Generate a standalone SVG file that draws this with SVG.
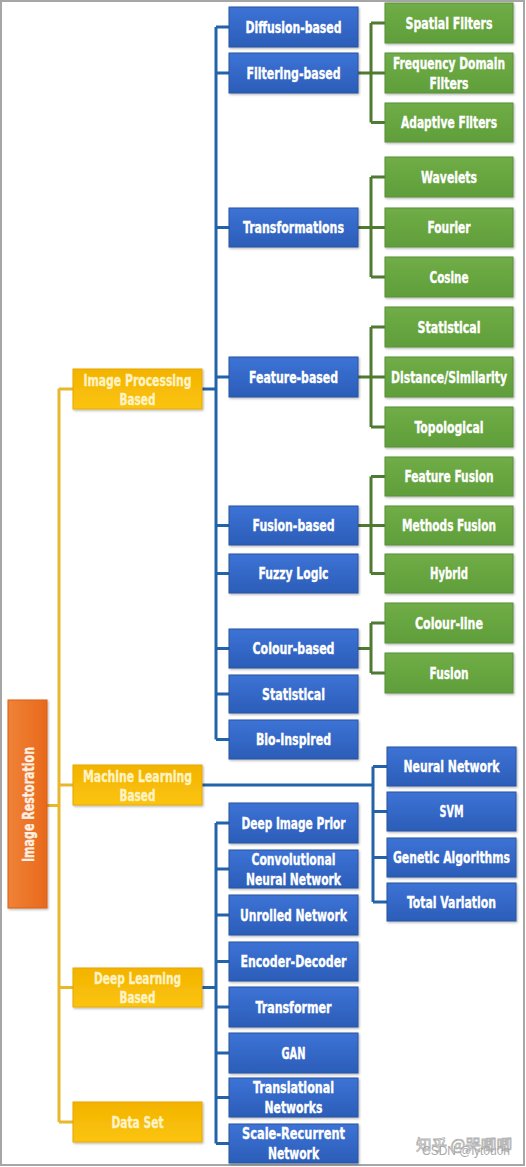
<svg xmlns="http://www.w3.org/2000/svg" width="526" height="1167" viewBox="0 0 526 1167">
<defs>
<linearGradient id="gBlue" x1="0" y1="0" x2="0" y2="1"><stop offset="0" stop-color="#3d73d6"/><stop offset="1" stop-color="#2b5db8"/></linearGradient>
<linearGradient id="gGreen" x1="0" y1="0" x2="0" y2="1"><stop offset="0" stop-color="#70ad47"/><stop offset="1" stop-color="#5f9e3a"/></linearGradient>
<linearGradient id="gYellow" x1="0" y1="0" x2="0" y2="1"><stop offset="0" stop-color="#f3b300"/><stop offset="1" stop-color="#fbc40e"/></linearGradient>
<linearGradient id="gOrange" x1="0" y1="0" x2="1" y2="0"><stop offset="0" stop-color="#f08236"/><stop offset="1" stop-color="#e8691c"/></linearGradient>
<filter id="sh" x="-10%" y="-10%" width="125%" height="135%"><feDropShadow dx="1" dy="1.2" stdDeviation="0.8" flood-color="#000" flood-opacity="0.3"/></filter>
<style>
.b{fill:url(#gBlue);stroke:#2a55a0;stroke-width:1;filter:url(#sh)}
.g{fill:url(#gGreen);stroke:#5a903a;stroke-width:1;filter:url(#sh)}
.y{fill:url(#gYellow);stroke:#e8a800;stroke-width:1;filter:url(#sh)}
.o{fill:url(#gOrange);stroke:#d86016;stroke-width:1;filter:url(#sh)}
text{font-family:"DejaVu Sans Condensed","DejaVu Sans","Liberation Sans",sans-serif;font-weight:bold;font-size:16px;text-anchor:middle}
.tw{fill:#ffffff;stroke:#ffffff;stroke-width:0.35}
.ty{fill:#fff3c6;stroke:#fff3c6;stroke-width:0.35}
.to{fill:#fff0e4;stroke:#fff0e4;stroke-width:0.35}
.cb{stroke:#2263aa;stroke-width:3;fill:none}
.cg{stroke:#4e7a32;stroke-width:3;fill:none}
.cy{stroke:#e8b82c;stroke-width:3;fill:none}
.wm{font-family:"Noto Sans CJK SC","Liberation Sans",sans-serif;font-weight:normal;font-size:15px;fill:#ffffff;stroke:#b4b4b4;stroke-width:0.8}
.wm2{font-family:"Liberation Sans",sans-serif;font-weight:normal;font-size:13px;fill:#a8a8a8}
</style>
</defs>
<rect x="0" y="0" width="526" height="1167" fill="#ffffff"/>
<rect x="1" y="1" width="523" height="1164" fill="none" stroke="#a6a6a6" stroke-width="2"/>

<g id="connectors">
  <path class="cy" d="M47 805.5H59M59 388.5V1122M59 389H73M59 785H73M59 987.5H73M59 1122H73"/>
  <path class="cb" d="M202 389H216M216 27V739.5M216 27H229M216 73H229M216 227.5H229M216 377H229M216 525.5H229M216 573.5H229M216 648.5H229M216 694H229M216 739.5H229"/>
  <path class="cg" d="M358 73H371M371 23V122.5M371 23H385M371 73H385M371 122.5H385"/>
  <path class="cg" d="M358 227.5H371M371 177V277M371 177H385M371 227.5H385M371 277H385"/>
  <path class="cg" d="M358 377H371M371 327V427M371 327H385M371 377H385M371 427H385"/>
  <path class="cg" d="M358 525.5H371M371 476.5V573.5M371 476.5H385M371 525.5H385M371 573.5H385"/>
  <path class="cg" d="M358 648.5H371M371 623V673M371 623H385M371 673H385"/>
  <path class="cb" d="M202 785H373M373 766.5V902M373 766.5H387M373 811.5H387M373 857.5H387M373 902H387"/>
  <path class="cb" d="M202 987.5H216M216 823V1143.5M216 823H229M216 869H229M216 915H229M216 961.5H229M216 1007H229M216 1053H229M216 1097.5H229M216 1143.5H229"/>
</g>

<g id="n_root"><rect class="o" x="8" y="700" width="39" height="208"/><text class="to" transform="translate(33.5,804.5) rotate(-90)" textLength="115" lengthAdjust="spacingAndGlyphs">Image Restoration</text></g>

<g id="n_ip"><rect class="y" x="73" y="369" width="129" height="40"/><text class="ty" x="137.5" y="385.5" textLength="108" lengthAdjust="spacingAndGlyphs">Image Processing</text><text class="ty" x="137.5" y="404.5" textLength="36" lengthAdjust="spacingAndGlyphs">Based</text></g>
<g id="n_ml"><rect class="y" x="73" y="765" width="129" height="40"/><text class="ty" x="137.5" y="781.5" textLength="109" lengthAdjust="spacingAndGlyphs">Machine Learning</text><text class="ty" x="137.5" y="800.5" textLength="36" lengthAdjust="spacingAndGlyphs">Based</text></g>
<g id="n_dl"><rect class="y" x="73" y="968" width="129" height="39"/><text class="ty" x="137.5" y="983.5" textLength="87" lengthAdjust="spacingAndGlyphs">Deep Learning</text><text class="ty" x="137.5" y="1002.5" textLength="36" lengthAdjust="spacingAndGlyphs">Based</text></g>
<g id="n_ds"><rect class="y" x="73" y="1102" width="129" height="40"/><text class="ty" x="137.5" y="1127.5" textLength="52" lengthAdjust="spacingAndGlyphs">Data Set</text></g>

<g id="n_diff"><rect class="b" x="229" y="7" width="129" height="40"/><text class="tw" x="293.5" y="32.5" textLength="96" lengthAdjust="spacingAndGlyphs">Diffusion-based</text></g>
<g id="n_filt"><rect class="b" x="229" y="53" width="129" height="40"/><text class="tw" x="293.5" y="78.5" textLength="94" lengthAdjust="spacingAndGlyphs">Filtering-based</text></g>
<g id="n_trans"><rect class="b" x="229" y="208" width="129" height="39"/><text class="tw" x="293.5" y="233" textLength="101" lengthAdjust="spacingAndGlyphs">Transformations</text></g>
<g id="n_feat"><rect class="b" x="229" y="357" width="129" height="40"/><text class="tw" x="293.5" y="382.5" textLength="89" lengthAdjust="spacingAndGlyphs">Feature-based</text></g>
<g id="n_fusb"><rect class="b" x="229" y="506" width="129" height="39"/><text class="tw" x="293.5" y="531" textLength="82" lengthAdjust="spacingAndGlyphs">Fusion-based</text></g>
<g id="n_fuzzy"><rect class="b" x="229" y="554" width="129" height="39"/><text class="tw" x="293.5" y="579" textLength="70" lengthAdjust="spacingAndGlyphs">Fuzzy Logic</text></g>
<g id="n_colb"><rect class="b" x="229" y="629" width="129" height="39"/><text class="tw" x="293.5" y="654" textLength="82" lengthAdjust="spacingAndGlyphs">Colour-based</text></g>
<g id="n_stat"><rect class="b" x="229" y="675" width="129" height="38"/><text class="tw" x="293.5" y="699.5" textLength="63" lengthAdjust="spacingAndGlyphs">Statistical</text></g>
<g id="n_bio"><rect class="b" x="229" y="720" width="129" height="39"/><text class="tw" x="293.5" y="745" textLength="75" lengthAdjust="spacingAndGlyphs">Bio-Inspired</text></g>

<g id="n_spat"><rect class="g" x="385" y="3" width="128" height="40"/><text class="tw" x="449" y="28.5" textLength="87" lengthAdjust="spacingAndGlyphs">Spatial Filters</text></g>
<g id="n_freq"><rect class="g" x="385" y="53" width="128" height="40"/><text class="tw" x="449" y="69" textLength="112" lengthAdjust="spacingAndGlyphs">Frequency Domain</text><text class="tw" x="449" y="89" textLength="39" lengthAdjust="spacingAndGlyphs">Filters</text></g>
<g id="n_adap"><rect class="g" x="385" y="103" width="128" height="39"/><text class="tw" x="449" y="128" textLength="96" lengthAdjust="spacingAndGlyphs">Adaptive Filters</text></g>
<g id="n_wave"><rect class="g" x="385" y="157" width="128" height="40"/><text class="tw" x="449" y="182.5" textLength="56" lengthAdjust="spacingAndGlyphs">Wavelets</text></g>
<g id="n_four"><rect class="g" x="385" y="208" width="128" height="39"/><text class="tw" x="449" y="233" textLength="43" lengthAdjust="spacingAndGlyphs">Fourier</text></g>
<g id="n_cos"><rect class="g" x="385" y="257" width="128" height="40"/><text class="tw" x="449" y="282.5" textLength="39" lengthAdjust="spacingAndGlyphs">Cosine</text></g>
<g id="n_gstat"><rect class="g" x="385" y="307" width="128" height="40"/><text class="tw" x="449" y="332.5" textLength="63" lengthAdjust="spacingAndGlyphs">Statistical</text></g>
<g id="n_dist"><rect class="g" x="385" y="357" width="128" height="40"/><text class="tw" x="449" y="382.5" textLength="116" lengthAdjust="spacingAndGlyphs">Distance/Similarity</text></g>
<g id="n_topo"><rect class="g" x="385" y="407" width="128" height="40"/><text class="tw" x="449" y="432.5" textLength="69" lengthAdjust="spacingAndGlyphs">Topological</text></g>
<g id="n_ffus"><rect class="g" x="385" y="457" width="128" height="39"/><text class="tw" x="449" y="482" textLength="89" lengthAdjust="spacingAndGlyphs">Feature Fusion</text></g>
<g id="n_mfus"><rect class="g" x="385" y="506" width="128" height="39"/><text class="tw" x="449" y="531" textLength="94" lengthAdjust="spacingAndGlyphs">Methods Fusion</text></g>
<g id="n_hyb"><rect class="g" x="385" y="554" width="128" height="39"/><text class="tw" x="449" y="579" textLength="38" lengthAdjust="spacingAndGlyphs">Hybrid</text></g>
<g id="n_cline"><rect class="g" x="385" y="603" width="128" height="40"/><text class="tw" x="449" y="628.5" textLength="68" lengthAdjust="spacingAndGlyphs">Colour-line</text></g>
<g id="n_cfus"><rect class="g" x="385" y="653" width="128" height="40"/><text class="tw" x="449" y="678.5" textLength="39" lengthAdjust="spacingAndGlyphs">Fusion</text></g>

<g id="n_nn"><rect class="b" x="387" y="747" width="129" height="39"/><text class="tw" x="451.5" y="772" textLength="96" lengthAdjust="spacingAndGlyphs">Neural Network</text></g>
<g id="n_svm"><rect class="b" x="387" y="792" width="129" height="39"/><text class="tw" x="451.5" y="817" textLength="24" lengthAdjust="spacingAndGlyphs">SVM</text></g>
<g id="n_ga"><rect class="b" x="387" y="838" width="129" height="39"/><text class="tw" x="451.5" y="863" textLength="117" lengthAdjust="spacingAndGlyphs">Genetic Algorithms</text></g>
<g id="n_tv"><rect class="b" x="387" y="883" width="129" height="38"/><text class="tw" x="451.5" y="907.5" textLength="89" lengthAdjust="spacingAndGlyphs">Total Variation</text></g>

<g id="n_dip"><rect class="b" x="229" y="803" width="129" height="40"/><text class="tw" x="293.5" y="828.5" textLength="104" lengthAdjust="spacingAndGlyphs">Deep Image Prior</text></g>
<g id="n_cnn"><rect class="b" x="229" y="850" width="129" height="38"/><text class="tw" x="293.5" y="864.5" textLength="84" lengthAdjust="spacingAndGlyphs">Convolutional</text><text class="tw" x="293.5" y="884.5" textLength="95" lengthAdjust="spacingAndGlyphs">Neural Network</text></g>
<g id="n_unr"><rect class="b" x="229" y="895" width="129" height="40"/><text class="tw" x="293.5" y="920.5" textLength="107" lengthAdjust="spacingAndGlyphs">Unrolled Network</text></g>
<g id="n_enc"><rect class="b" x="229" y="942" width="129" height="39"/><text class="tw" x="293.5" y="967" textLength="106" lengthAdjust="spacingAndGlyphs">Encoder-Decoder</text></g>
<g id="n_tr"><rect class="b" x="229" y="987" width="129" height="40"/><text class="tw" x="293.5" y="1012.5" textLength="76" lengthAdjust="spacingAndGlyphs">Transformer</text></g>
<g id="n_gan"><rect class="b" x="229" y="1033" width="129" height="40"/><text class="tw" x="293.5" y="1058.5" textLength="24" lengthAdjust="spacingAndGlyphs">GAN</text></g>
<g id="n_trn"><rect class="b" x="229" y="1078" width="129" height="39"/><text class="tw" x="293.5" y="1093" textLength="81" lengthAdjust="spacingAndGlyphs">Translational</text><text class="tw" x="293.5" y="1113" textLength="58" lengthAdjust="spacingAndGlyphs">Networks</text></g>
<g id="n_src"><rect class="b" x="229" y="1124" width="129" height="39"/><text class="tw" x="293.5" y="1139" textLength="103" lengthAdjust="spacingAndGlyphs">Scale-Recurrent</text><text class="tw" x="293.5" y="1159" textLength="51" lengthAdjust="spacingAndGlyphs">Network</text></g>

<g id="watermark">
  <text class="wm" x="464" y="1150" textLength="96" lengthAdjust="spacingAndGlyphs">知乎 @哭唧唧</text>
  <text class="wm2" x="466" y="1155" textLength="88" lengthAdjust="spacingAndGlyphs">CSDN @lyt0u0n</text>
</g>
</svg>
